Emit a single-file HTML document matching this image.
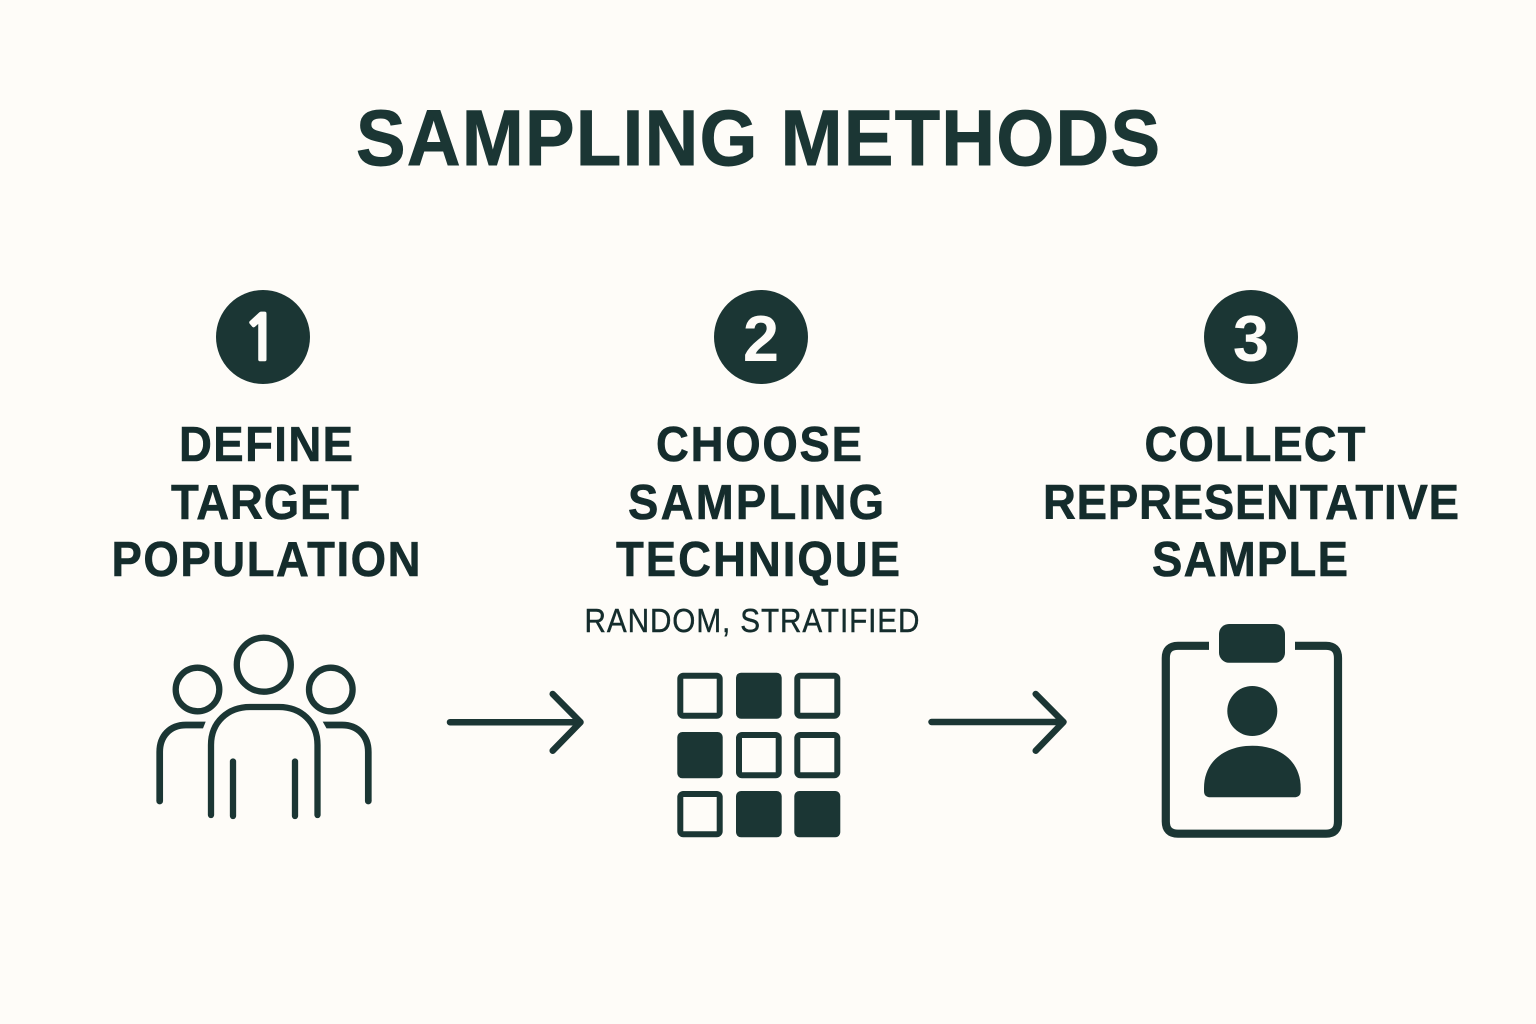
<!DOCTYPE html>
<html>
<head>
<meta charset="utf-8">
<style>
html,body{margin:0;padding:0;background:#fefcf8;}
svg{display:block;}
text{font-family:"Liberation Sans",sans-serif;fill:#142c2c;font-weight:700;}
</style>
</head>
<body>
<svg width="1536" height="1024" viewBox="0 0 1536 1024" xmlns="http://www.w3.org/2000/svg">
<rect width="1536" height="1024" fill="#fefcf8"/>
<text transform="translate(758 165) scale(.94 1)" text-anchor="middle" font-size="79" textLength="855.300" lengthAdjust="spacing" style="fill:#1b3634;stroke:#1b3634;stroke-width:.9">SAMPLING METHODS</text>

<circle cx="263" cy="337" r="47" fill="#1b3634"/>
<circle cx="761" cy="337" r="47" fill="#1b3634"/>
<circle cx="1251" cy="337" r="47" fill="#1b3634"/>
<text x="261" y="360.500" text-anchor="middle" font-size="63" style="fill:#fefcf8;stroke:#fefcf8;stroke-width:1.500;font-family:'NanumGothic','Liberation Sans',sans-serif">1</text>
<text x="761" y="361" text-anchor="middle" font-size="65" style="fill:#fefcf8">2</text>
<text x="1251" y="361" text-anchor="middle" font-size="65" style="fill:#fefcf8">3</text>

<g font-size="49.500" text-anchor="middle" style="stroke:#142c2c;stroke-width:.6">
<text transform="translate(266 461) scale(.92 1)" textLength="189.100" lengthAdjust="spacing">DEFINE</text>
<text transform="translate(265 519) scale(.92 1)" textLength="204.300" lengthAdjust="spacing">TARGET</text>
<text transform="translate(266 576) scale(.92 1)" textLength="335.900" lengthAdjust="spacing">POPULATION</text>
<text transform="translate(759 461) scale(.92 1)" textLength="223.900" lengthAdjust="spacing">CHOOSE</text>
<text transform="translate(756 519) scale(.92 1)" textLength="278.300" lengthAdjust="spacing">SAMPLING</text>
<text transform="translate(758 576) scale(.92 1)" textLength="308.700" lengthAdjust="spacing">TECHNIQUE</text>
<text transform="translate(1255 461) scale(.92 1)" textLength="240.200" lengthAdjust="spacing">COLLECT</text>
<text transform="translate(1251 519) scale(.92 1)" textLength="452.200" lengthAdjust="spacing">REPRESENTATIVE</text>
<text transform="translate(1250 576) scale(.92 1)" textLength="213" lengthAdjust="spacing">SAMPLE</text>
</g>
<text transform="translate(752 632) scale(.9 1)" text-anchor="middle" font-size="33" textLength="372.200" lengthAdjust="spacing" style="font-weight:400;stroke:#142c2c;stroke-width:.4">RANDOM, STRATIFIED</text>

<!-- people icon -->
<g fill="none" stroke="#1b3634" stroke-width="6.300" stroke-linecap="round" stroke-linejoin="round">
<circle cx="263.800" cy="664.700" r="27"/>
<circle cx="197.500" cy="689.500" r="21.800"/>
<circle cx="330.800" cy="689.500" r="21.800"/>
<path d="M211 815V745C211 722 228 707 250 707H279C301 707 317.500 722 317.500 745V815"/>
<path d="M233 761.500V816M295 761.500V816"/>
</g>
<g fill="none" stroke="#1b3634" stroke-width="6.700" stroke-linecap="butt">
<path d="M159.700 801V752C159.700 736 170 725 186 725H203"/>
<path d="M368.300 801V752C368.300 736 358 725 342 725H326.500"/>
</g>
<g fill="#1b3634">
<circle cx="159.700" cy="801" r="3.350"/>
<circle cx="368.300" cy="801" r="3.350"/>
<polygon points="203,721.650 205.700,721.650 203,728.350"/>
<polygon points="326.500,721.650 322.700,721.650 326.500,728.350"/>
</g>

<!-- arrows -->
<g fill="none" stroke="#1b3634" stroke-width="6.500" stroke-linecap="round" stroke-linejoin="round">
<path d="M450 722.200H580M552.700 694L580.500 722.200L552.700 750.700"/>
<path d="M931.500 722H1063M1035.700 694L1063.500 722L1035.700 750.700"/>
</g>

<!-- grid -->
<g fill="none" stroke="#1b3634" stroke-width="6">
<rect x="680.300" y="675.700" width="39.400" height="40" rx="3"/>
<rect x="797.300" y="675.700" width="40" height="40" rx="3"/>
<rect x="739" y="735" width="39.700" height="40.300" rx="3"/>
<rect x="797.300" y="735" width="40" height="40.300" rx="3"/>
<rect x="680.300" y="794" width="39.400" height="40.300" rx="3"/>
</g>
<g fill="#1b3634">
<rect x="736" y="672.700" width="45.700" height="46" rx="5"/>
<rect x="677.300" y="732" width="45.400" height="46.300" rx="5"/>
<rect x="736" y="791" width="45.700" height="46.300" rx="5"/>
<rect x="794.300" y="791" width="46" height="46.300" rx="5"/>
</g>

<!-- clipboard -->
<path d="M1209 645.800H1178Q1165.800 645.800 1165.800 658V821.500Q1165.800 833.700 1178 833.700H1326Q1338 833.700 1338 821.500V658Q1338 645.800 1326 645.800H1295" fill="none" stroke="#1b3634" stroke-width="8.200"/>
<rect x="1219" y="624" width="66" height="38.700" rx="10" fill="#1b3634"/>
<circle cx="1252.300" cy="711" r="25" fill="#1b3634"/>
<path d="M1204 788C1204 762 1224 745.700 1252.300 745.700C1281 745.700 1300.700 762 1300.700 788V791Q1300.700 797.300 1294 797.300H1210.500Q1204 797.300 1204 791Z" fill="#1b3634"/>
</svg>
</body>
</html>
